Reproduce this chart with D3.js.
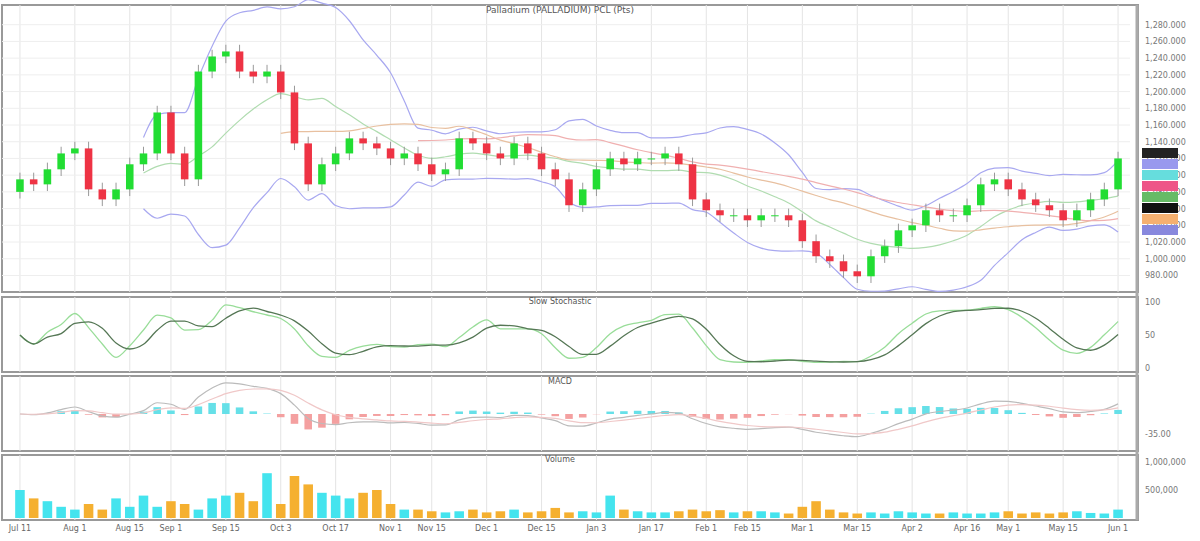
<!DOCTYPE html>
<html><head><meta charset="utf-8">
<script src="https://cdn.jsdelivr.net/npm/d3@7"></script>
<style>body{margin:0;background:#fff;font-family:"DejaVu Sans",sans-serif}</style>
</head><body><svg id="c" width="1200" height="541"></svg>
<script>
const title = "Palladium (PALLADIUM) PCL (Pts)";
const closes = [1095,1089,1107,1126,1132,1083,1071,1083,1113,1126,
1175,1126,1095,1224,1242,1248,1224,1218,1224,1199,
1138,1089,1113,1126,1144,1138,1132,1120,1126,1113,
1101,1107,1144,1138,1126,1120,1138,1126,1107,1095,
1064,1083,1107,1120,1113,1120,1120,1126,1113,1071,
1058,1052,1052,1046,1052,1052,1046,1021,1003,997,
985,979,1003,1015,1034,1040,1058,1052,1052,1064,
1089,1095,1083,1071,1064,1058,1046,1058,1071,1083,1120];
const volumes = [50,35,30,20,15,25,15,35,20,40,
20,30,25,15,35,40,45,30,80,25,
75,60,45,40,35,45,50,25,15,15,
12,10,12,15,10,12,15,10,12,18,
10,12,10,40,15,12,10,10,12,15,
12,14,10,12,12,10,8,20,30,15,
10,8,10,8,12,10,8,8,10,8,
8,10,12,8,10,8,10,12,9,8,15];
const dateLabels = ["Jul 11","Aug 1","Aug 15","Sep 1","Sep 15","Oct 3","Oct 17","Nov 1","Nov 15","Dec 1","Dec 15","Jan 3","Jan 17","Feb 1","Feb 15","Mar 1","Mar 15","Apr 2","Apr 16","May 1","May 15","Jun 1"];
const priceTicks = [980,1000,1020,1040,1060,1080,1100,1120,1140,1160,1180,1200,1220,1240,1260,1280];

const svg = d3.select("#c");
const L=10,R=1128,n=closes.length;
const x = d3.scaleBand().domain(d3.range(n)).range([L,R]).padding(0.45);
const opens = closes.map((c,i)=> i?closes[i-1]:1080);
const panels=[{t:5,b:292},{t:297,b:372},{t:376,b:451},{t:455,b:520}];
panels.forEach(p=>{
  svg.append("rect").attr("x",L-8).attr("y",p.t).attr("width",R-L+16+2).attr("height",p.b-p.t).attr("fill","#fff").attr("stroke","#999").attr("stroke-width",2);
});
svg.append("line").attr("x1",1137).attr("x2",1137).attr("y1",5).attr("y2",520).attr("stroke","#aaa").attr("stroke-width",3);
// vertical grid
const tickIdx = dateLabels.map((d,i)=>Math.round(i*(n-1)/(dateLabels.length-1)));
tickIdx.forEach((ti,k)=>{
  const xx = x(ti)+x.bandwidth()/2;
  panels.forEach(p=>svg.append("line").attr("x1",xx).attr("x2",xx).attr("y1",p.t).attr("y2",p.b).attr("stroke","#e4e4e4"));
  svg.append("text").attr("x",xx).attr("y",531).attr("font-size",8).attr("fill","#666").attr("text-anchor","middle").text(dateLabels[k]);
});
// price
const y = d3.scaleLinear().domain([965,1300]).range([288,8]);
priceTicks.forEach(v=>{
  svg.append("line").attr("x1",L-8).attr("x2",1130).attr("y1",y(v)).attr("y2",y(v)).attr("stroke","#eee");
  svg.append("text").attr("x",1145).attr("y",y(v)+3).attr("font-size",8).attr("fill","#777").text(d3.format(",.3f")(v));
});
svg.append("text").attr("x",560).attr("y",13).attr("font-size",9).attr("fill","#555").attr("text-anchor","middle").text(title);
const sma=(arr,k)=>arr.map((_,i)=>i<k-1?null:d3.mean(arr.slice(i-k+1,i+1)));
const sd=(arr,k)=>arr.map((_,i)=>i<k-1?null:d3.deviation(arr.slice(i-k+1,i+1)));
const cx=i=>x(i)+x.bandwidth()/2;
const line=(arr,sc)=>d3.line().defined(d=>d!=null).x((d,i)=>cx(i)).y(d=>sc(d)).curve(d3.curveMonotoneX)(arr);
const m20=sma(closes,10), s20=sd(closes,10);
const up=m20.map((m,i)=>m==null?null:m+2*s20[i]), dn=m20.map((m,i)=>m==null?null:m-2*s20[i]);
[[up,"#a8a8f0"],[dn,"#a8a8f0"],[m20,"#b0dcb0"],[sma(closes,20),"#e8c0a0"],[sma(closes,30),"#f0b0b0"]].forEach(([a,c])=>
  svg.append("path").attr("d",line(a,y)).attr("fill","none").attr("stroke",c).attr("stroke-width",1.2));
closes.forEach((c,i)=>{
  const o=opens[i],col=c>=o?"#22dd33":"#ee3344";
  svg.append("line").attr("x1",cx(i)).attr("x2",cx(i)).attr("y1",y(Math.max(o,c)+8)).attr("y2",y(Math.min(o,c)-8)).attr("stroke","#999");
  svg.append("rect").attr("x",x(i)).attr("width",x.bandwidth()).attr("y",y(Math.max(o,c))).attr("height",Math.max(1,Math.abs(y(o)-y(c)))).attr("fill",col);
});
// legend swatches
["#222","#9999ee","#66dddd","#ee5588","#66bb66","#111","#f5b070","#8888dd"].forEach((c,i)=>
  svg.append("rect").attr("x",1142).attr("y",148+i*11).attr("width",36).attr("height",10).attr("fill",c));
// stochastic
const st=closes.map((c,i)=>{const w=closes.slice(Math.max(0,i-9),i+1);const lo=d3.min(w)-8,hi=d3.max(w)+8;return 100*(c-lo)/(hi-lo);});
const sk=sma(st,3).map((v,i)=>v==null?st[i]:v), sdd=sma(sk,3).map((v,i)=>v==null?sk[i]:v);
const ys=d3.scaleLinear().domain([0,100]).range([368,302]);
svg.append("path").attr("d",line(sk,ys)).attr("fill","none").attr("stroke","#99dd99").attr("stroke-width",1.3);
svg.append("path").attr("d",line(sdd,ys)).attr("fill","none").attr("stroke","#557755").attr("stroke-width",1.3);
svg.append("text").attr("x",560).attr("y",304).attr("font-size",8).attr("fill","#555").attr("text-anchor","middle").text("Slow Stochastic");
[0,50,100].forEach(v=>svg.append("text").attr("x",1145).attr("y",ys(v)+3).attr("font-size",8).attr("fill","#777").text(v));
// MACD
const ema=(a,k)=>{const al=2/(k+1);let e=a[0];return a.map(v=>e=al*v+(1-al)*e);};
const macd=ema(closes,6).map((v,i)=>v-ema(closes,13)[i]), sig=ema(macd,5), hist=macd.map((v,i)=>v-sig[i]);
const ym=d3.scaleLinear().domain([-40,40]).range([448,380]);
hist.forEach((h,i)=>svg.append("rect").attr("x",x(i)).attr("width",x.bandwidth()).attr("y",Math.min(ym(0),ym(h))).attr("height",Math.abs(ym(h)-ym(0))).attr("fill",h>=0?"#66e0e8":"#f4a0a0"));
svg.append("path").attr("d",line(macd,ym)).attr("fill","none").attr("stroke","#bbb").attr("stroke-width",1.2);
svg.append("path").attr("d",line(sig,ym)).attr("fill","none").attr("stroke","#f0c8c8").attr("stroke-width",1.2);
svg.append("text").attr("x",560).attr("y",384).attr("font-size",8).attr("fill","#555").attr("text-anchor","middle").text("MACD");
svg.append("text").attr("x",1145).attr("y",437).attr("font-size",8).attr("fill","#777").text("-35.00");
// volume
const yv=d3.scaleLinear().domain([0,100]).range([518,462]);
volumes.forEach((v,i)=>svg.append("rect").attr("x",x(i)-1).attr("width",x.bandwidth()+2).attr("y",yv(v)).attr("height",yv(0)-yv(v)).attr("fill",closes[i]>=opens[i]?"#44e4ee":"#f5b030"));
svg.append("text").attr("x",560).attr("y",462).attr("font-size",8).attr("fill","#555").attr("text-anchor","middle").text("Volume");
[[100,"1,000,000"],[50,"500,000"]].forEach(([v,t])=>svg.append("text").attr("x",1145).attr("y",yv(v)+3).attr("font-size",8).attr("fill","#777").text(t));
</script></body></html>
